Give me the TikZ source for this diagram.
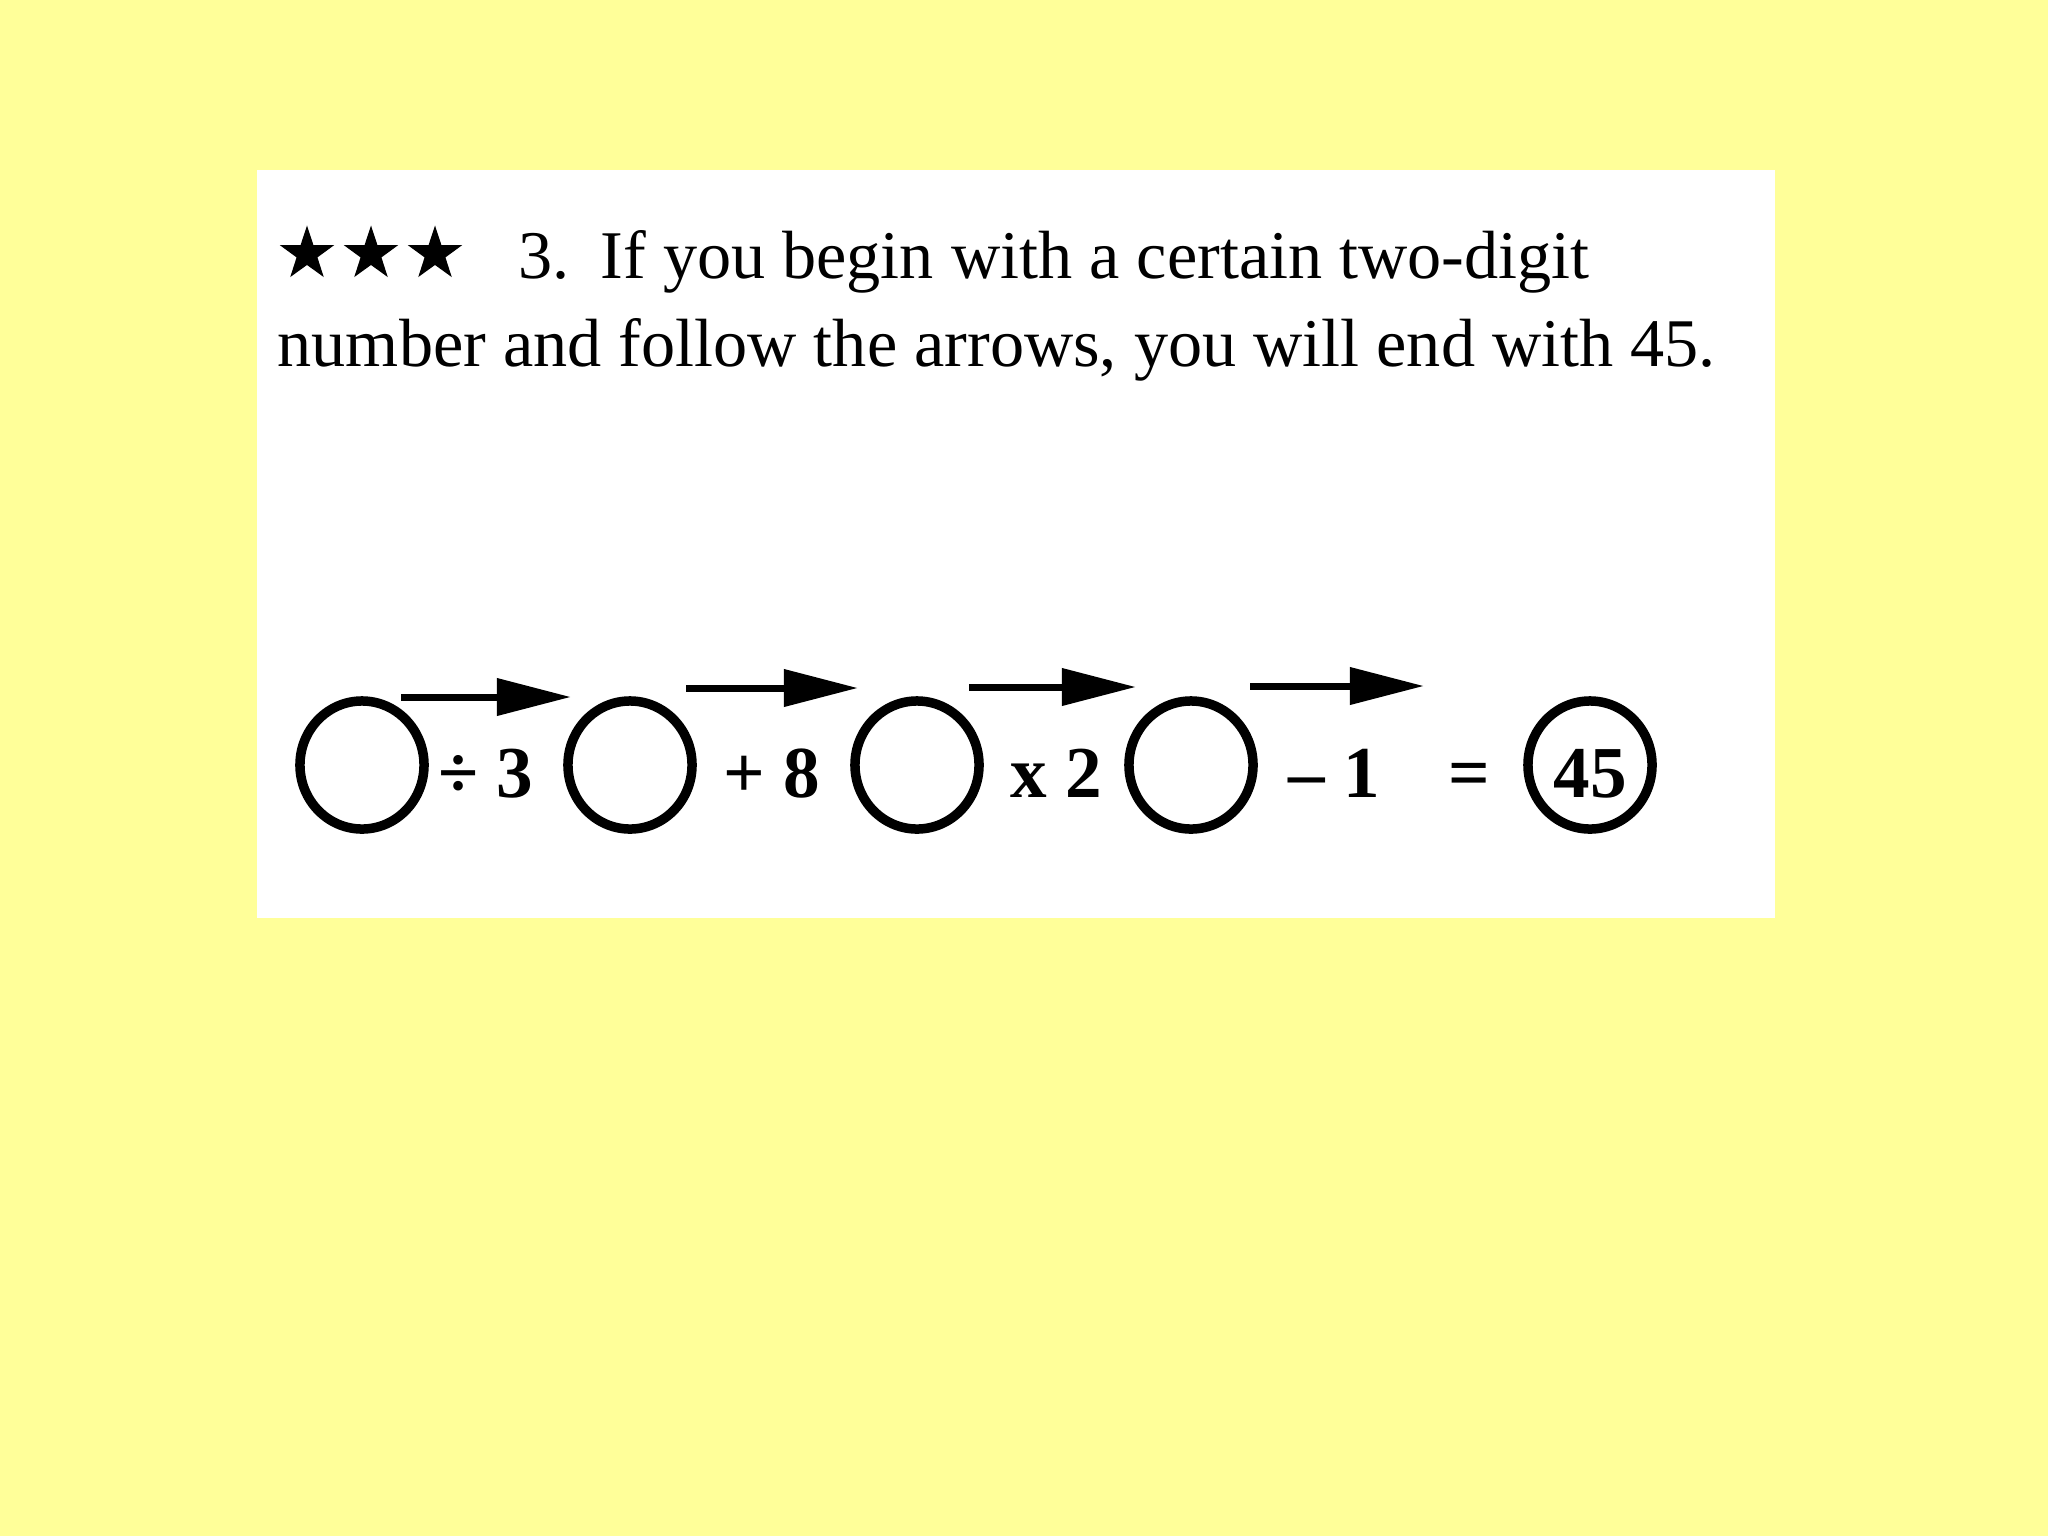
\documentclass[tikz,border=0pt]{standalone}
\usepackage{fontspec}
\setmainfont{Liberation Serif}
\usetikzlibrary{arrows.meta}
\usetikzlibrary{shapes.geometric}
\definecolor{pagebg}{RGB}{255,255,153}

\begin{document}
\begin{tikzpicture}[x=0.01cm,y=-0.01cm,
	box/.style={draw,ellipse,line width=0.095cm,minimum width=1.24cm,minimum height=1.28cm,inner sep=0pt},
	op/.style={anchor=base,inner sep=0pt,font=\fontsize{20.8}{24}\selectfont\bfseries},
	flow/.style={-{Triangle[length=0.74cm,width=0.36cm]},line width=0.07cm},
	starmark/.style={star,star points=5,star point ratio=2.6,fill,minimum size=0.57cm,inner sep=0pt},
	line/.style={anchor=base west,inner sep=0pt,font=\fontsize{19.4}{23}\selectfont}]
			\useasboundingbox (0,0) rectangle (2048,1536);
			\fill[pagebg] (0,0) rectangle (2048,1536);
			\fill[white] (257,170) rectangle (1775,918);
			% question
			\node[starmark](s1)at(307,254){};
			\node[starmark](s2)at(371,254){};
			\node[starmark](s3)at(435,254){};
			\node[line](q1)at(518,278){3.\hspace{0.45em}If you begin with a certain two-digit};
			\node[line](q2)at(277,366){number and follow the arrows, you will end with 45.};
			% chain
			\node[box](c1)at(362,765){};
			\node[box](c2)at(630,765){};
			\node[box](c3)at(917,765){};
			\node[box](c4)at(1191,765){};
			\node[box,text height=0.64cm,text depth=0pt,font=\fontsize{20.8}{24}\selectfont\bfseries](res)at(1590,765){45};
			\node[op](op1)at(486,797){÷ 3};
			\node[op](op2)at(772,797){+ 8};
			\node[op](op3)at(1056,797){x 2};
			\node[op](op4)at(1334,797){– 1};
			\node[op](eq)at(1469,797){=};
			\coordinate(a1s)at(401,697);
			\coordinate(a1e)at(571,697);
			\coordinate(a2s)at(686,688);
			\coordinate(a2e)at(858,688);
			\coordinate(a3s)at(969,687);
			\coordinate(a3e)at(1136,687);
			\coordinate(a4s)at(1250,686);
			\coordinate(a4e)at(1424,686);
			\draw[flow](a1s)--(a1e);
			\draw[flow](a2s)--(a2e);
			\draw[flow](a3s)--(a3e);
			\draw[flow](a4s)--(a4e);
		\end{tikzpicture}
\end{document}
